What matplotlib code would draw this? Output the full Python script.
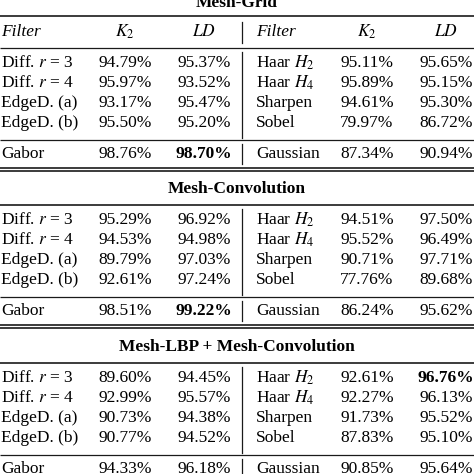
import matplotlib
matplotlib.use('Agg')
import matplotlib.pyplot as plt

plt.rcParams['font.family'] = ['Liberation Serif', 'DejaVu Serif']
plt.rcParams['mathtext.fontset'] = 'stix'

sections = ["Mesh-Grid", "Mesh-Convolution", "Mesh-LBP + Mesh-Convolution"]
left_filters = ["Diff. $r$ = 3", "Diff. $r$ = 4", "EdgeD. (a)", "EdgeD. (b)", "Gabor"]
right_filters = ["Haar $H_2$", "Haar $H_4$", "Sharpen", "Sobel", "Gaussian"]

grid_left_k2 = [94.79, 95.97, 93.17, 95.50, 98.76]
grid_left_ld = [95.37, 93.52, 95.47, 95.20, 98.70]
grid_right_k2 = [95.11, 95.89, 94.61, 79.97, 87.34]
grid_right_ld = [95.65, 95.15, 95.30, 86.72, 90.94]

conv_left_k2 = [95.29, 94.53, 89.79, 92.61, 98.51]
conv_left_ld = [96.92, 94.98, 97.03, 97.24, 99.22]
conv_right_k2 = [94.51, 95.52, 90.71, 77.76, 86.24]
conv_right_ld = [97.50, 96.49, 97.71, 89.68, 95.62]

lbp_left_k2 = [89.60, 92.99, 90.73, 90.77, 94.33]
lbp_left_ld = [94.45, 95.57, 94.38, 94.52, 96.18]
lbp_right_k2 = [92.61, 92.27, 91.73, 87.83, 90.85]
lbp_right_ld = [96.76, 96.13, 95.52, 95.10, 95.64]

# bold cells: (section, side, column, row)
bold_cells = {(0, 0, 1, 4), (1, 0, 1, 4), (2, 1, 1, 0)}

data = [
    (grid_left_k2, grid_left_ld, grid_right_k2, grid_right_ld),
    (conv_left_k2, conv_left_ld, conv_right_k2, conv_right_ld),
    (lbp_left_k2, lbp_left_ld, lbp_right_k2, lbp_right_ld),
]

fig = plt.figure(figsize=(4.74, 4.74), dpi=100)
ax = fig.add_axes([0, 0, 1, 1])
ax.set_xlim(0, 474)
ax.set_ylim(474, 0)
ax.axis('off')

fs = 12.5
col_x = [1, 125, 204, 256, 367, 446]
vline_x = 242
title_y = [3, 189, 347]
top_line = [16, 205, 363]
row_step = 20
color = '#1a1a1a'


def hline(y, lw=1.0):
    ax.plot([0, 474], [y, y], color=color, lw=lw, solid_capstyle='butt')


for s, (title, vals) in enumerate(zip(sections, data)):
    ax.text(237, title_y[s], title, ha='center', va='center', fontsize=fs, fontweight='bold')
    y0 = top_line[s]
    hline(y0, 1.2)
    if s == 0:
        hy = 32
        ax.text(col_x[0], hy, "Filter", ha='left', va='center', fontsize=fs, style='italic')
        ax.text(col_x[1], hy, "$K_2$", ha='center', va='center', fontsize=fs)
        ax.text(col_x[2], hy, "$LD$", ha='center', va='center', fontsize=fs)
        ax.text(col_x[3], hy, "Filter", ha='left', va='center', fontsize=fs, style='italic')
        ax.text(col_x[4], hy, "$K_2$", ha='center', va='center', fontsize=fs)
        ax.text(col_x[5], hy, "$LD$", ha='center', va='center', fontsize=fs)
        ax.plot([vline_x, vline_x], [22, 43], color=color, lw=0.9)
        y0 = 48
        hline(y0, 0.9)
    first = y0 + 15
    rows_y = [first + i * row_step for i in range(4)]
    sep_y = rows_y[-1] + 17
    gab_y = sep_y + 14
    rows_y.append(gab_y)
    hline(sep_y, 0.9)
    ax.plot([vline_x, vline_x], [y0 + 4, sep_y - 2], color=color, lw=0.9)
    ax.plot([vline_x, vline_x], [sep_y + 4, gab_y + 10], color=color, lw=0.9)
    if s < 2:
        hline(gab_y + 14, 1.2)
        hline(gab_y + 17, 1.2)
    for r, yy in enumerate(rows_y):
        ax.text(col_x[0], yy, left_filters[r], ha='left', va='center', fontsize=fs)
        ax.text(col_x[3], yy, right_filters[r], ha='left', va='center', fontsize=fs)
        for side in range(2):
            for c in range(2):
                v = vals[side * 2 + c][r]
                bold = (s, side, c, r) in bold_cells
                ax.text(col_x[side * 3 + 1 + c], yy, f"{v:.2f}%", ha='center', va='center',
                        fontsize=fs, fontweight='bold' if bold else 'normal')

fig.savefig('out.png', dpi=100)
